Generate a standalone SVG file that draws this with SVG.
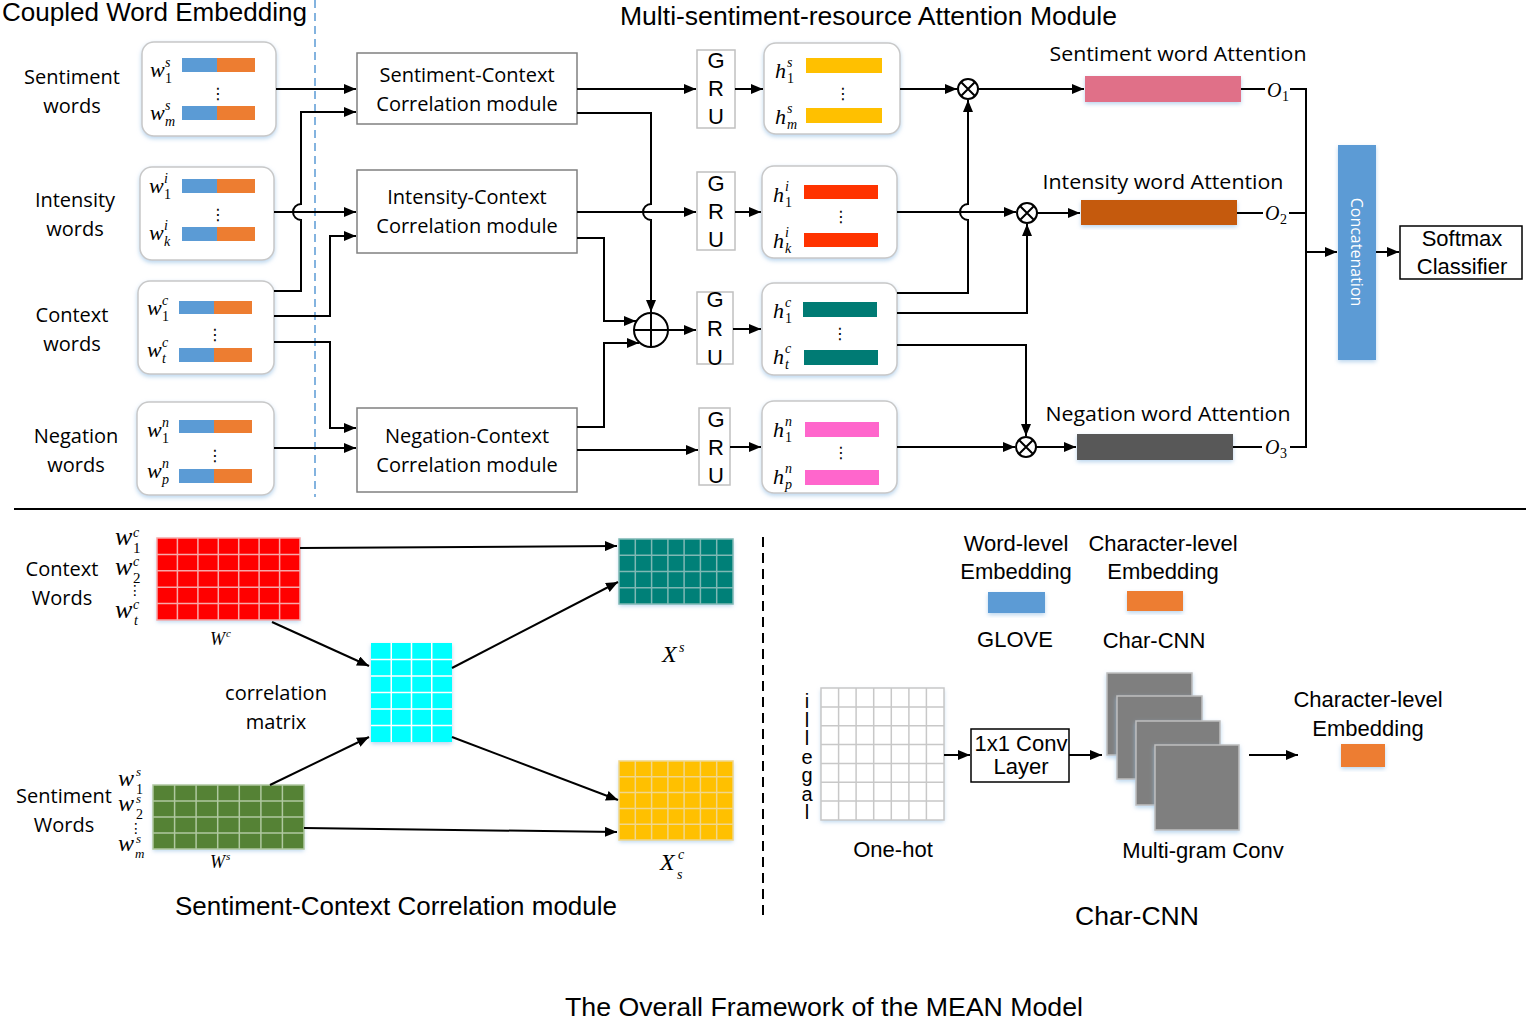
<svg xmlns="http://www.w3.org/2000/svg" width="1538" height="1019" viewBox="0 0 1538 1019">
<defs>
<marker id="ah" viewBox="0 0 12 10" refX="12" refY="5" markerWidth="12" markerHeight="10" markerUnits="userSpaceOnUse" orient="auto"><path d="M0,0 L12,5 L0,10 z" fill="#000"/></marker>
<filter id="sh" x="-10%" y="-10%" width="120%" height="130%"><feDropShadow dx="0" dy="2" stdDeviation="2" flood-color="#9dc3e6" flood-opacity="0.7"/></filter>
</defs>
<style>
.t{font-family:"Open Sans","Liberation Sans",sans-serif;font-size:20px;fill:#000;text-anchor:middle}
.a{font-family:"Liberation Sans",Arial,sans-serif;font-size:22px;fill:#000;text-anchor:middle}
.n{font-family:"Liberation Sans",Arial,sans-serif;font-size:26px;fill:#000}
.m{font-family:"Liberation Serif","Times New Roman",serif;font-style:italic;fill:#000}
.ms{font-family:"Liberation Serif","Times New Roman",serif;font-style:italic;font-size:14px;fill:#000}
.mn{font-family:"Liberation Serif","Times New Roman",serif;font-style:normal;font-size:14px;fill:#000}
.up{font-style:normal}
.dt{font-family:"DejaVu Sans",sans-serif;font-style:normal}
.dots{font-family:"DejaVu Sans",sans-serif;font-size:16px;fill:#000;text-anchor:middle}
.ln{stroke:#000;stroke-width:2;fill:none}
.ar{marker-end:url(#ah)}
.box{fill:#fff;stroke:#c0c0c0;stroke-width:1.5}
.rbox{fill:#fff;stroke:#c8c8c8;stroke-width:1.5;filter:url(#sh)}
.sbox{fill:#fff;stroke:#808080;stroke-width:1.5}
.b{fill:#5B9BD5}
.o{fill:#ED7D31}
.gl{fill:none;stroke-width:1.5}
.vt{font-family:"Liberation Sans",Arial,sans-serif;font-size:20px;fill:#000;writing-mode:vertical-rl;text-orientation:upright;letter-spacing:-3.5px}
</style>
<rect width="1538" height="1019" fill="#fff"/>

<!-- titles -->
<text class="n" x="2" y="21" textLength="305" lengthAdjust="spacingAndGlyphs">Coupled Word Embedding</text>
<text class="n" x="620" y="25" textLength="497" lengthAdjust="spacingAndGlyphs">Multi-sentiment-resource Attention Module</text>
<line x1="315" y1="0" x2="315" y2="497" stroke="#5B9BD5" stroke-width="1.5" stroke-dasharray="8,5"/>

<!-- embedding nodes -->
<g id="emb-sentiment">
<text class="t" x="72" y="84">Sentiment</text><text class="t" x="72" y="113">words</text>
<rect class="rbox" x="142" y="42" width="134" height="94" rx="12"/>
<rect class="b" x="182" y="58" width="35" height="14"/><rect class="o" x="217" y="58" width="38" height="14"/>
<rect class="b" x="182" y="106" width="35" height="14"/><rect class="o" x="217" y="106" width="38" height="14"/>
<text class="m" x="150" y="77" font-size="22">w</text><text class="ms" x="165" y="67">s</text><text class="mn" x="165" y="83">1</text>
<text class="m" x="150" y="120" font-size="22">w</text><text class="ms" x="165" y="110">s</text><text class="ms" x="165" y="126">m</text>
<text class="dots" x="218" y="99">⋮</text>
</g>
<g id="emb-intensity">
<text class="t" x="75" y="207">Intensity</text><text class="t" x="75" y="236">words</text>
<rect class="rbox" x="140" y="167" width="134" height="93" rx="12"/>
<rect class="b" x="182" y="179" width="35" height="14"/><rect class="o" x="217" y="179" width="38" height="14"/>
<rect class="b" x="182" y="227" width="35" height="14"/><rect class="o" x="217" y="227" width="38" height="14"/>
<text class="m" x="149" y="193" font-size="22">w</text><text class="ms" x="164" y="183">i</text><text class="mn" x="164" y="199">1</text>
<text class="m" x="149" y="240" font-size="22">w</text><text class="ms" x="164" y="230">i</text><text class="ms" x="164" y="246">k</text>
<text class="dots" x="218" y="220">⋮</text>
</g>
<g id="emb-context">
<text class="t" x="72" y="322">Context</text><text class="t" x="72" y="351">words</text>
<rect class="rbox" x="138" y="281" width="136" height="93" rx="12"/>
<rect class="b" x="179" y="301" width="35" height="13"/><rect class="o" x="214" y="301" width="38" height="13"/>
<rect class="b" x="179" y="348" width="35" height="14"/><rect class="o" x="214" y="348" width="38" height="14"/>
<text class="m" x="147" y="315" font-size="22">w</text><text class="ms" x="162" y="305">c</text><text class="mn" x="162" y="321">1</text>
<text class="m" x="147" y="357" font-size="22">w</text><text class="ms" x="162" y="347">c</text><text class="ms" x="162" y="363">t</text>
<text class="dots" x="215" y="340">⋮</text>
</g>
<g id="emb-negation">
<text class="t" x="76" y="443">Negation</text><text class="t" x="76" y="472">words</text>
<rect class="rbox" x="137" y="402" width="137" height="93" rx="12"/>
<rect class="b" x="179" y="420" width="35" height="13"/><rect class="o" x="214" y="420" width="38" height="13"/>
<rect class="b" x="179" y="469" width="35" height="14"/><rect class="o" x="214" y="469" width="38" height="14"/>
<text class="m" x="147" y="437" font-size="22">w</text><text class="ms" x="162" y="427">n</text><text class="mn" x="162" y="443">1</text>
<text class="m" x="147" y="478" font-size="22">w</text><text class="ms" x="162" y="468">n</text><text class="ms" x="162" y="484">p</text>
<text class="dots" x="215" y="461">⋮</text>
</g>

<!-- correlation modules -->
<g id="sc-module"><rect class="sbox" x="357" y="53" width="220" height="71"/>
<text class="t" x="467" y="82">Sentiment-Context</text><text class="t" x="467" y="111">Correlation module</text></g>
<g id="ic-module"><rect class="sbox" x="357" y="170" width="220" height="83"/>
<text class="t" x="467" y="204">Intensity-Context</text><text class="t" x="467" y="233">Correlation module</text></g>
<g id="nc-module"><rect class="sbox" x="357" y="408" width="220" height="84"/>
<text class="t" x="467" y="443">Negation-Context</text><text class="t" x="467" y="472">Correlation module</text></g>

<!-- add node -->
<g id="add"><circle cx="651" cy="330" r="17" fill="#fff" stroke="#000" stroke-width="2"/>
<path class="ln" d="M634,330 H668 M651,313 V347"/></g>

<!-- GRUs -->
<g id="gru1"><rect class="box" x="697" y="50" width="38" height="78"/>
<text class="a" x="716" y="68">G</text><text class="a" x="716" y="96">R</text><text class="a" x="716" y="124">U</text></g>
<g id="gru2"><rect class="box" x="697" y="172" width="38" height="78"/>
<text class="a" x="716" y="191">G</text><text class="a" x="716" y="219">R</text><text class="a" x="716" y="247">U</text></g>
<g id="gru3"><rect class="box" x="697" y="292" width="36" height="72"/>
<text class="a" x="715" y="307">G</text><text class="a" x="715" y="336">R</text><text class="a" x="715" y="365">U</text></g>
<g id="gru4"><rect class="box" x="699" y="408" width="31" height="77"/>
<text class="a" x="716" y="427">G</text><text class="a" x="716" y="455">R</text><text class="a" x="716" y="483">U</text></g>

<!-- hidden state nodes -->
<g id="h-sentiment"><rect class="rbox" x="764" y="43" width="136" height="91" rx="12"/>
<rect x="806" y="58" width="76" height="15" fill="#FFC000"/><rect x="806" y="108" width="76" height="15" fill="#FFC000"/>
<text class="m" x="775" y="78" font-size="22">h</text><text class="ms" x="787" y="67">s</text><text class="mn" x="787" y="83">1</text>
<text class="m" x="775" y="124" font-size="22">h</text><text class="ms" x="787" y="113">s</text><text class="ms" x="787" y="129">m</text>
<text class="dots" x="843" y="99">⋮</text></g>
<g id="h-intensity"><rect class="rbox" x="762" y="166" width="135" height="92" rx="12"/>
<rect x="804" y="185" width="74" height="14" fill="#FF3300"/><rect x="804" y="233" width="74" height="14" fill="#FF3300"/>
<text class="m" x="773" y="202" font-size="22">h</text><text class="ms" x="785" y="191">i</text><text class="mn" x="785" y="207">1</text>
<text class="m" x="773" y="248" font-size="22">h</text><text class="ms" x="785" y="237">i</text><text class="ms" x="785" y="253">k</text>
<text class="dots" x="841" y="222">⋮</text></g>
<g id="h-context"><rect class="rbox" x="762" y="283" width="135" height="92" rx="12"/>
<rect x="803" y="302" width="74" height="15" fill="#007B74"/><rect x="804" y="350" width="74" height="15" fill="#007B74"/>
<text class="m" x="773" y="318" font-size="22">h</text><text class="ms" x="785" y="307">c</text><text class="mn" x="785" y="323">1</text>
<text class="m" x="773" y="364" font-size="22">h</text><text class="ms" x="785" y="353">c</text><text class="ms" x="785" y="369">t</text>
<text class="dots" x="840" y="339">⋮</text></g>
<g id="h-negation"><rect class="rbox" x="762" y="401" width="135" height="92" rx="12"/>
<rect x="805" y="422" width="74" height="15" fill="#FF66CC"/><rect x="805" y="470" width="74" height="15" fill="#FF66CC"/>
<text class="m" x="773" y="437" font-size="22">h</text><text class="ms" x="785" y="426">n</text><text class="mn" x="785" y="442">1</text>
<text class="m" x="773" y="484" font-size="22">h</text><text class="ms" x="785" y="473">n</text><text class="ms" x="785" y="489">p</text>
<text class="dots" x="841" y="458">⋮</text></g>

<!-- multiply nodes -->
<g id="mul1"><circle cx="968" cy="89" r="10" fill="#fff" stroke="#000" stroke-width="2"/><path class="ln" d="M961,82 L975,96 M975,82 L961,96"/></g>
<g id="mul2"><circle cx="1027" cy="213" r="10" fill="#fff" stroke="#000" stroke-width="2"/><path class="ln" d="M1020,206 L1034,220 M1034,206 L1020,220"/></g>
<g id="mul3"><circle cx="1026" cy="447" r="10" fill="#fff" stroke="#000" stroke-width="2"/><path class="ln" d="M1019,440 L1033,454 M1033,440 L1019,454"/></g>

<!-- attention nodes -->
<g id="att-sentiment"><text class="t" x="1178" y="61" textLength="257" lengthAdjust="spacingAndGlyphs">Sentiment word Attention</text>
<rect x="1085" y="76" width="156" height="26" fill="#E07088" filter="url(#sh)"/>
<text class="m" x="1267" y="97" font-size="20">O</text><text class="mn" x="1282" y="101">1</text></g>
<g id="att-intensity"><text class="t" x="1163" y="189" textLength="241" lengthAdjust="spacingAndGlyphs">Intensity word Attention</text>
<rect x="1081" y="200" width="156" height="25" fill="#C55A11" filter="url(#sh)"/>
<text class="m" x="1265" y="220" font-size="20">O</text><text class="mn" x="1280" y="224">2</text></g>
<g id="att-negation"><text class="t" x="1168" y="421" textLength="245" lengthAdjust="spacingAndGlyphs">Negation word Attention</text>
<rect x="1077" y="434" width="156" height="26" fill="#595959" filter="url(#sh)"/>
<text class="m" x="1265" y="454" font-size="20">O</text><text class="mn" x="1280" y="458">3</text></g>

<g id="concat"><rect x="1338" y="145" width="38" height="215" fill="#5B9BD5" filter="url(#sh)"/>
<text x="1357" y="252" transform="rotate(90 1357 252)" font-family="Open Sans, Liberation Sans, sans-serif" font-size="16" fill="#fff" text-anchor="middle" dominant-baseline="central">Concatenation</text></g>
<g id="softmax"><rect x="1400" y="226" width="122" height="53" fill="#fff" stroke="#000" stroke-width="1.5"/>
<text class="a" x="1462" y="246">Softmax</text><text class="a" x="1462" y="274">Classifier</text></g>

<!-- top connectors -->
<g id="connectors-top">
<path class="ln ar" d="M276,89 H356"/>
<path class="ln ar" d="M274,212 H356"/>
<path class="ln ar" d="M274,448 H356"/>
<path class="ln ar" d="M274,291 H301 V220 A8,8 0 0 1 301,204 V112 H356"/>
<path class="ln ar" d="M274,316 H330 V236 H356"/>
<path class="ln ar" d="M274,342 H330 V428 H356"/>
<path class="ln ar" d="M577,89 H696"/>
<path class="ln ar" d="M577,113 H651 V204 A8,8 0 0 0 651,220 V312"/>
<path class="ln ar" d="M577,212 H696"/>
<path class="ln ar" d="M577,238 H604 V321 H636"/>
<path class="ln ar" d="M577,427 H604 V343 H639"/>
<path class="ln ar" d="M668,330 H696"/>
<path class="ln ar" d="M577,450 H698"/>
<path class="ln ar" d="M735,89 H763"/>
<path class="ln ar" d="M735,212 H761"/>
<path class="ln ar" d="M733,329 H761"/>
<path class="ln ar" d="M730,447 H761"/>
<path class="ln ar" d="M900,89 H957"/>
<path class="ln ar" d="M978,89 H1084"/>
<path class="ln ar" d="M897,212 H1016"/>
<path class="ln ar" d="M1037,213 H1080"/>
<path class="ln ar" d="M897,293 H968 V220 A8,8 0 0 1 968,204 V100"/>
<path class="ln ar" d="M897,313 H1027 V224"/>
<path class="ln ar" d="M897,345 H1026 V436"/>
<path class="ln ar" d="M897,447 H1015"/>
<path class="ln ar" d="M1036,447 H1076"/>
<path class="ln" d="M1241,89 H1265 M1290,89 H1306 V447 H1290 M1262,447 H1233 M1237,213 H1263 M1289,213 H1306"/>
<path class="ln ar" d="M1306,252 H1337"/>
<path class="ln ar" d="M1376,252 H1399"/>
</g>

<line x1="14" y1="509" x2="1526" y2="509" stroke="#000" stroke-width="2"/>

<!-- bottom left -->
<g id="ctx-words">
<text class="t" x="62" y="576">Context</text><text class="t" x="62" y="605">Words</text>
<text class="m" font-size="26"><tspan x="115" y="545">w</tspan><tspan x="133" y="537" font-size="14">c</tspan><tspan class="up" x="133" y="553" font-size="15">1</tspan><tspan x="115" y="575">w</tspan><tspan x="133" y="566" font-size="14">c</tspan><tspan class="up" x="133" y="583" font-size="15">2</tspan><tspan class="dt" x="128" y="595" font-size="14">⋮</tspan><tspan x="115" y="618">w</tspan><tspan x="133" y="609" font-size="14">c</tspan><tspan x="134" y="625" font-size="14">t</tspan></text>
<rect x="157" y="538" width="143" height="82" fill="#FF0000" filter="url(#sh)"/>
<path class="gl" stroke="#F7A8A8" d="M157,538 H300 V620 H157 Z M177.4,538 V620 M197.9,538 V620 M218.3,538 V620 M238.7,538 V620 M259.1,538 V620 M279.6,538 V620 M157,554.4 H300 M157,570.8 H300 M157,587.2 H300 M157,603.6 H300"/>
<text class="m" font-size="18"><tspan x="210" y="645">W</tspan><tspan x="226" y="637" font-size="11">c</tspan></text>
</g>
<g id="corr-matrix">
<text class="t" x="276" y="700">correlation</text><text class="t" x="276" y="729">matrix</text>
<rect x="371" y="643" width="81" height="99" fill="#00FFFF" filter="url(#sh)"/>
<path class="gl" stroke="#ffffff" d="M391.25,643 V742 M411.5,643 V742 M431.75,643 V742 M371,659.5 H452 M371,676 H452 M371,692.5 H452 M371,709 H452 M371,725.5 H452"/>
</g>
<g id="sent-words">
<text class="t" x="64" y="803">Sentiment</text><text class="t" x="64" y="832">Words</text>
<text class="m" font-size="24"><tspan x="118" y="786">w</tspan><tspan x="136" y="776" font-size="13">s</tspan><tspan class="up" x="136" y="794" font-size="14">1</tspan><tspan x="118" y="811">w</tspan><tspan x="136" y="803" font-size="13">s</tspan><tspan class="up" x="136" y="819" font-size="14">2</tspan><tspan class="dt" x="129" y="833" font-size="14">⋮</tspan><tspan x="118" y="851">w</tspan><tspan x="136" y="843" font-size="13">s</tspan><tspan x="135" y="858" font-size="13">m</tspan></text>
<rect x="153" y="785" width="151" height="64" fill="#548235" filter="url(#sh)"/>
<path class="gl" stroke="#B0C8A0" d="M153,785 H304 V849 H153 Z M174.6,785 V849 M196.1,785 V849 M217.7,785 V849 M239.3,785 V849 M260.9,785 V849 M282.4,785 V849 M153,801 H304 M153,817 H304 M153,833 H304"/>
<text class="m" font-size="18"><tspan x="210" y="868">W</tspan><tspan x="226" y="860" font-size="11">s</tspan></text>
</g>
<g id="xs">
<rect x="619" y="539" width="114" height="65" fill="#008078" filter="url(#sh)"/>
<path class="gl" stroke="#7FB8B4" d="M619,539 H733 V604 H619 Z M635.3,539 V604 M651.6,539 V604 M667.9,539 V604 M684.1,539 V604 M700.4,539 V604 M716.7,539 V604 M619,555.25 H733 M619,571.5 H733 M619,587.75 H733"/>
<text class="m" font-size="24"><tspan x="662" y="662">X</tspan><tspan x="679" y="652" font-size="14">s</tspan></text>
</g>
<g id="xcs">
<rect x="619" y="761" width="114" height="79" fill="#FFC000" filter="url(#sh)"/>
<path class="gl" stroke="#F0D68C" d="M619,761 H733 V840 H619 Z M635.3,761 V840 M651.6,761 V840 M667.9,761 V840 M684.1,761 V840 M700.4,761 V840 M716.7,761 V840 M619,776.8 H733 M619,792.6 H733 M619,808.4 H733 M619,824.2 H733"/>
<text class="m" font-size="24"><tspan x="660" y="870">X</tspan><tspan x="678" y="859" font-size="14">c</tspan><tspan x="677" y="879" font-size="14">s</tspan></text>
</g>
<g id="connectors-bl">
<path class="ln ar" d="M300,548 L617,546"/>
<path class="ln ar" d="M272,622 L369,666"/>
<path class="ln ar" d="M270,785 L369,737"/>
<path class="ln ar" d="M304,828 L617,832"/>
<path class="ln ar" d="M452,668 L618,582"/>
<path class="ln ar" d="M452,737 L618,800"/>
</g>
<text class="n" x="175" y="915" textLength="442" lengthAdjust="spacingAndGlyphs">Sentiment-Context Correlation module</text>
<line x1="763" y1="537" x2="763" y2="915" stroke="#000" stroke-width="2" stroke-dasharray="10,6"/>

<!-- bottom right -->
<g id="legend">
<text class="a" x="1016" y="551">Word-level</text><text class="a" x="1016" y="579">Embedding</text>
<text class="a" x="1163" y="551">Character-level</text><text class="a" x="1163" y="579">Embedding</text>
<rect class="b" x="988" y="592" width="57" height="21" filter="url(#sh)"/>
<rect class="o" x="1127" y="591" width="56" height="20" filter="url(#sh)"/>
<text class="a" x="1015" y="647">GLOVE</text><text class="a" x="1154" y="648">Char-CNN</text>
</g>
<g id="one-hot">
<text class="vt" x="807" y="690">illegal</text>
<rect x="821" y="688" width="123" height="132" fill="#fff" filter="url(#sh)"/>
<path class="gl" stroke="#C8C8C8" d="M821,688 H944 V820 H821 Z M838.6,688 V820 M856.1,688 V820 M873.7,688 V820 M891.3,688 V820 M908.9,688 V820 M926.4,688 V820 M821,706.9 H944 M821,725.7 H944 M821,744.6 H944 M821,763.4 H944 M821,782.3 H944 M821,801.1 H944"/>
<text class="a" x="893" y="857">One-hot</text>
</g>
<g id="conv1x1"><rect x="971" y="729" width="98" height="53" fill="#fff" stroke="#000" stroke-width="1.5"/>
<text class="a" x="1021" y="751" font-size="17">1x1 Conv</text><text class="a" x="1021" y="774" font-size="17">Layer</text></g>
<g id="multigram">
<rect x="1107" y="673" width="85" height="82" fill="#7F7F7F" stroke="#BFBFBF" stroke-width="1.5" filter="url(#sh)"/>
<rect x="1117" y="696" width="85" height="83" fill="#7F7F7F" stroke="#BFBFBF" stroke-width="1.5" filter="url(#sh)"/>
<rect x="1136" y="721" width="84" height="84" fill="#7F7F7F" stroke="#BFBFBF" stroke-width="1.5" filter="url(#sh)"/>
<rect x="1155" y="745" width="84" height="85" fill="#7F7F7F" stroke="#BFBFBF" stroke-width="1.5" filter="url(#sh)"/>
<text class="a" x="1203" y="858" font-size="23">Multi-gram Conv</text>
</g>
<g id="char-emb"><text class="a" x="1368" y="707">Character-level</text><text class="a" x="1368" y="736">Embedding</text>
<rect class="o" x="1341" y="744" width="44" height="23" filter="url(#sh)"/></g>
<g id="connectors-br">
<path class="ln ar" d="M944,755 H970"/>
<path class="ln ar" d="M1069,755 H1102"/>
<path class="ln ar" d="M1249,755 H1298"/>
</g>
<text class="n" x="1075" y="925" textLength="124" lengthAdjust="spacingAndGlyphs">Char-CNN</text>
<text class="n" x="565" y="1016" textLength="518" lengthAdjust="spacingAndGlyphs">The Overall Framework of the MEAN Model</text>
</svg>
